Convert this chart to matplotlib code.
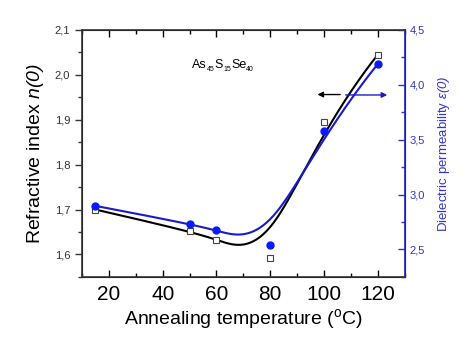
import numpy as np
import matplotlib.pyplot as plt
from matplotlib.ticker import FuncFormatter, MultipleLocator
from matplotlib.transforms import offset_copy

plt.rcParams['font.family'] = ['Liberation Sans', 'DejaVu Sans']
plt.rcParams['mathtext.fontset'] = 'custom'
plt.rcParams['mathtext.rm'] = 'Liberation Sans'
plt.rcParams['mathtext.it'] = 'Liberation Sans:style=italic'
# sf slot used as an all-italic font (digits and brackets included)
plt.rcParams['mathtext.sf'] = 'Liberation Sans:style=italic'

temps = [15, 50, 60, 80, 100, 120]
n0 = [1.700, 1.652, 1.633, 1.592, 1.894, 2.045]
eps0 = [2.897, 2.734, 2.673, 2.539, 3.58, 4.19]

label_parts = [('As', 9, 0), ('45', 5, -2.5), ('S', 9, 0), ('15', 5, -2.5), ('Se', 9, 0), ('40', 5, -2.5)]


# clamped cubic B-spline with the data as control points (Origin "B-Spline" line)
def bspline(xs, ys, num=300, k=3):
    pts = np.column_stack([xs, ys])
    n = len(pts)
    inner = np.arange(1, n - k)
    knots = np.concatenate([np.zeros(k + 1), inner, np.full(k + 1, n - k)]).astype(float)
    t = np.linspace(0, n - k, num)
    t[-1] -= 1e-9
    out = []
    for tv in t:
        N = np.array([1.0 if knots[i] <= tv < knots[i + 1] else 0.0 for i in range(len(knots) - 1)])
        for d in range(1, k + 1):
            Nn = np.zeros(len(knots) - 1 - d)
            for i in range(len(Nn)):
                a = 0.0
                if knots[i + d] != knots[i]:
                    a = (tv - knots[i]) / (knots[i + d] - knots[i]) * N[i]
                b = 0.0
                if knots[i + d + 1] != knots[i + 1]:
                    b = (knots[i + d + 1] - tv) / (knots[i + d + 1] - knots[i + 1]) * N[i + 1]
                Nn[i] = a + b
            N = Nn
        out.append(N @ pts)
    out = np.array(out)
    return out[:, 0], out[:, 1]


comma = FuncFormatter(lambda v, p: ('%.1f' % v).replace('.', ','))
blue_txt = '#3333cc'

fig = plt.figure(figsize=(4.74, 3.51), dpi=100)
ax = fig.add_axes([0.173, 0.211, 0.681, 0.704])
ax2 = ax.twinx()

bx, by = bspline(temps, n0)
ax.plot(bx, by, color='black', lw=1.5, zorder=2)
ax.plot(temps, n0, 's', mfc='white', mec='#444444', ms=4.5, mew=0.8, zorder=3)

ex, ey = bspline(temps, eps0)
ax2.plot(ex, ey, color='#1a1acc', lw=1.5, zorder=2)
ax2.plot(temps, eps0, 'o', color='#0a1aff', ms=5, zorder=3)

ax.set_xlim(10, 130)
ax.set_ylim(1.55, 2.1)
ax2.set_ylim(2.25, 4.5)

ax.xaxis.set_major_locator(MultipleLocator(20))
ax.xaxis.set_minor_locator(MultipleLocator(10))
ax.yaxis.set_major_locator(MultipleLocator(0.1))
ax.yaxis.set_minor_locator(MultipleLocator(0.05))
ax2.yaxis.set_major_locator(MultipleLocator(0.5))
ax2.yaxis.set_minor_locator(MultipleLocator(0.25))
ax.yaxis.set_major_formatter(comma)
ax2.yaxis.set_major_formatter(comma)

ax.tick_params(axis='x', which='both', direction='in', top=True, labelsize=15, pad=6)
ax.tick_params(axis='x', which='major', length=5, width=1)
ax.tick_params(axis='x', which='minor', length=3, width=1)
ax.tick_params(axis='y', which='both', direction='out', labelsize=8, colors='#333333', width=1)
ax.tick_params(axis='y', which='major', length=5)
ax.tick_params(axis='y', which='minor', length=3)
ax2.tick_params(axis='y', which='both', direction='in', labelsize=8, colors=blue_txt, width=1)
ax2.tick_params(axis='y', which='major', length=5)
ax2.tick_params(axis='y', which='minor', length=3)

for s in ['left', 'bottom', 'top']:
    ax2.spines[s].set_color('#333333')
    ax2.spines[s].set_linewidth(1.2)
ax2.spines['right'].set_color('#2222cc')
ax2.spines['right'].set_linewidth(1.2)

ax.set_xlabel('Annealing temperature ($^{\\rm o}$C)', fontsize=14, labelpad=2)
ax.set_ylabel('Refractive index $\\mathsf{n(0)}$', fontsize=14, labelpad=6)
ax2.set_ylabel('Dielectric permeability $\\mathit{\\varepsilon}\\mathsf{(0)}$', fontsize=9.5,
               color=blue_txt, labelpad=8)

# composition label built piece by piece (small, lowered subscripts)
renderer = fig.canvas.get_renderer()
dx = 0.0
for s, size, dy in label_parts:
    tr = offset_copy(ax.transData, fig=fig, x=dx, y=dy, units='points')
    t = ax.text(51, 2.016, s, fontsize=size, va='baseline', transform=tr)
    dx += t.get_window_extent(renderer).width * 72 / fig.dpi

ax.annotate('', xy=(96.5, 1.956), xytext=(107, 1.956),
            arrowprops=dict(arrowstyle='-|>', color='black', lw=1, mutation_scale=8))
ax.annotate('', xy=(124.5, 1.955), xytext=(107, 1.955),
            arrowprops=dict(arrowstyle='-|>', color='#1a1acc', lw=1, mutation_scale=8))

fig.savefig('out.png', dpi=100)
